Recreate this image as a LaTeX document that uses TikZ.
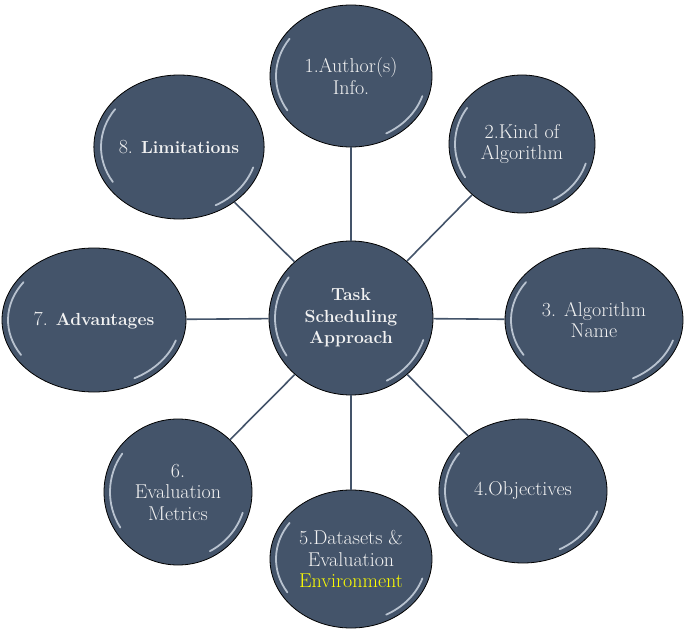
\documentclass[tikz,border=0pt]{standalone}
\usetikzlibrary{shapes.geometric}
\definecolor{slate}{HTML}{44546A}
\definecolor{slatelight}{HTML}{B9C3D0}
\definecolor{labelwhite}{HTML}{F2F2F2}
\definecolor{envyellow}{HTML}{FFFF00}
\newcommand{\keyword}[1]{{\fontsize{17.5}{21.5}\selectfont\bfseries #1}}
\tikzset{
    map diagram/.style = {x=1pt, y=-1pt},
    topic/.style       = {ellipse, draw=black, thick, fill=slate,
                          inner sep=0pt, text=labelwhite, align=center,
                          font=\fontsize{20}{21.5}\selectfont},
    hub/.style         = {topic, font=\fontsize{17.5}{21.5}\selectfont\bfseries},
    spoke/.style       = {draw=slate, line width=1.6pt},
    gloss/.style       = {draw=slatelight, line width=1.8pt, line cap=round}
}
\begin{document}
\begin{tikzpicture}[map diagram]

\useasboundingbox (0,0) rectangle (685,639);

% ================= Central topic =================
\node[hub, minimum width=164pt, minimum height=154pt] (approach) at (351,318)
    {Task\\Scheduling\\Approach};

% ================= Surrounding topics =================
\node[topic, minimum width=162pt, minimum height=142pt] (author) at (351,76)
    {1.Author(s)\\Info.};
\node[topic, minimum width=146pt, minimum height=138pt] (kind) at (522,144)
    {2.Kind of\\Algorithm};
\node[topic, minimum width=178pt, minimum height=144pt] (algname) at (594,320)
    {3. Algorithm\\Name};
\node[topic, minimum width=168pt, minimum height=144pt] (objectives) at (523,491)
    {4.Objectives};
\node[topic, minimum width=162pt, minimum height=138pt] (datasets) at (351,559)
    {5.Datasets \&\\Evaluation\\\textcolor{envyellow}{Environment}};
\node[topic, minimum width=148pt, minimum height=146pt] (metrics) at (178,492)
    {6.\\Evaluation\\Metrics};
\node[topic, minimum width=184pt, minimum height=144pt] (advantages) at (94,320)
    {7. \keyword{Advantages}};
\node[topic, minimum width=168pt, minimum height=144pt] (limitations) at (179,147)
    {8. \keyword{Limitations}};

% ================= Glossy rims (inset radii) =================
\foreach \n/\rx/\ry in {approach/76/71, author/75/65, kind/67/63, algname/83/66,
                        objectives/78/66, datasets/75/63, metrics/68/67,
                        advantages/86/66, limitations/78/66} {
    \draw[gloss] ([shift={(145:\rx pt and \ry pt)}]\n.center)
        arc[start angle=145, end angle=212, x radius=\rx pt, y radius=\ry pt];
    \draw[gloss] ([shift={(-62:\rx pt and \ry pt)}]\n.center)
        arc[start angle=-62, end angle=-18, x radius=\rx pt, y radius=\ry pt];
}

% ================= Spokes =================
\foreach \topic in {author,kind,algname,objectives,datasets,metrics,advantages,limitations}
    \draw[spoke] (approach) -- (\topic);

\end{tikzpicture}
\end{document}
